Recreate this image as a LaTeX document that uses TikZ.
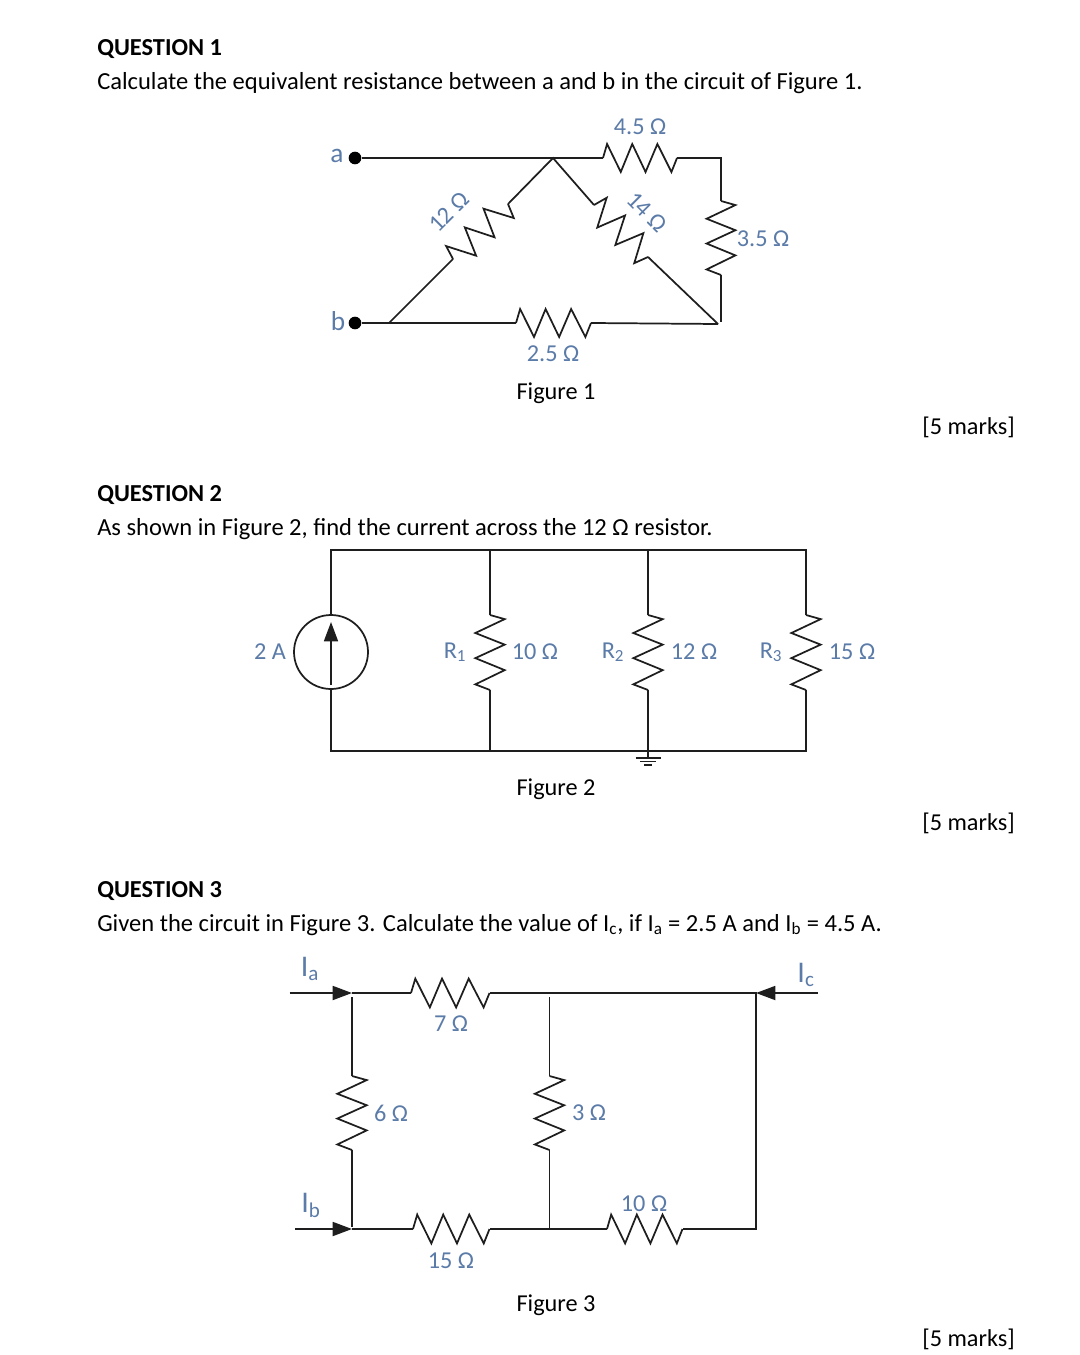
\documentclass[tikz,border=0pt]{standalone}
\usepackage{fontspec}
\setmainfont{Carlito}
\usetikzlibrary{calc,arrows.meta}
\definecolor{lab}{HTML}{5B7BA8}
\definecolor{ink}{HTML}{1E1E1E}
\tikzset{
  wire/.style={draw=ink,line width=1.3pt,line join=miter},
  bodytext/.style={inner sep=0pt,anchor=base west,text=black,font=\fontsize{18.4pt}{20pt}\selectfont},
  headtext/.style={bodytext,font=\fontsize{18.3pt}{20pt}\selectfont\bfseries},
  lbl/.style={inner sep=0pt,text=lab,font=\fontsize{18.2pt}{20pt}\selectfont},
  biglbl/.style={inner sep=0pt,text=lab,font=\fontsize{22.5pt}{24pt}\selectfont},
  figcap/.style={inner sep=0pt,text=black,font=\fontsize{18.2pt}{20pt}\selectfont},
  markstext/.style={inner sep=0pt,text=black,anchor=base east,font=\fontsize{18.2pt}{20pt}\selectfont},
  terminal/.style={circle,fill=black,inner sep=0pt,minimum size=9.5pt},
  sourcering/.style={circle,draw=ink,line width=1.3pt,inner sep=0pt,minimum size=55.5pt},
  flow/.style={wire,-{Triangle[length=14.5pt,width=10.5pt]}}
}
\newcommand{\resistor}[3]{%
  \draw[wire] (#1)
    -- ($(#1)!0.055!(#2)!#3!90:(#2)$)
    -- ($(#1)!0.24!(#2)!#3!-90:(#2)$)
    -- ($(#1)!0.395!(#2)!#3!90:(#2)$)
    -- ($(#1)!0.575!(#2)!#3!-90:(#2)$)
    -- ($(#1)!0.735!(#2)!#3!90:(#2)$)
    -- ($(#1)!0.925!(#2)!#3!-90:(#2)$)
    -- (#2);}
\begin{document}
\begin{tikzpicture}[x=0.75pt,y=-0.75pt]
\useasboundingbox (0,0) rectangle (1080,1355);
\fill[white] (0,0) rectangle (1080,1355);

% ---- texts
\node[headtext] (q1) at (97,56) {QUESTION 1};
\node[bodytext] (t1) at (97,90) {Calculate the equivalent resistance between a and b in the circuit of Figure 1.};
\node[headtext] (q2) at (97,501) {QUESTION 2};
\node[bodytext] (t2) at (97,535) {As shown in Figure 2, find the current across the 12 Ω resistor.};
\node[headtext] (q3) at (97,897) {QUESTION 3};
\node[bodytext] (t3) at (97,931) {Given the circuit in Figure 3. Calculate the value of I\textsubscript{c}, if I\textsubscript{a} = 2.5 A and I\textsubscript{b} = 4.5 A.};
\node[markstext] (m1) at (1015,434) {[5 marks]};
\node[markstext] (m2) at (1015,830) {[5 marks]};
\node[markstext] (m3) at (1015,1346) {[5 marks]};
\node[figcap] (f1) at (556,393.5) {Figure 1};
\node[figcap] (f2) at (556,789.5) {Figure 2};
\node[figcap] (f3) at (556,1305.5) {Figure 3};

% ---- Figure 1
\node[terminal] (a) at (355,158) {};
\node[terminal] (b) at (355,323) {};
\coordinate (top) at (553,158);
\coordinate (tr) at (721,158);
\coordinate (br) at (721,322);
\coordinate (bm) at (718,324);
\coordinate (left) at (389,323);
\coordinate (r45a) at (603,158); \coordinate (r45b) at (677,158);
\coordinate (r35a) at (721,201); \coordinate (r35b) at (721,275);
\coordinate (r25a) at (516,323); \coordinate (r25b) at (591,323);
\coordinate (r12a) at (453,259); \coordinate (r12b) at (508,204);
\coordinate (r14a) at (594,205); \coordinate (r14b) at (648,257);
\draw[wire] (a) -- (r45a);
\resistor{r45a}{r45b}{10.5pt}
\draw[wire] (r45b) -- (tr) -- (r35a);
\resistor{r35a}{r35b}{10.8pt}
\draw[wire] (r35b) -- (br);
\draw[wire] (b) -- (r25a);
\resistor{r25a}{r25b}{10.5pt}
\draw[wire] (r25b) -- (bm);
\draw[wire] (left) -- (r12a);
\resistor{r12a}{r12b}{10.5pt}
\draw[wire] (r12b) -- (top) -- (r14a);
\resistor{r14a}{r14b}{10.5pt}
\draw[wire] (r14b) -- (bm);
\node[lbl,font=\fontsize{20.5pt}{24pt}\selectfont] (la) at (337,156) {a};
\node[lbl,font=\fontsize{20.5pt}{24pt}\selectfont] (lb) at (338,321) {b};
\node[lbl] (l45) at (640,127) {4.5 Ω};
\node[lbl] (l35) at (763,239) {3.5 Ω};
\node[lbl] (l25) at (553,354) {2.5 Ω};
\node[lbl,rotate=45] (l12) at (449,212) {12 Ω};
\node[lbl,rotate=-45] (l14) at (647,212) {14 Ω};

% ---- Figure 2
\coordinate (s2t) at (331,550); \coordinate (s2b) at (331,751);
\coordinate (x1t) at (490,550); \coordinate (x1b) at (490,751);
\coordinate (x2t) at (648,550); \coordinate (x2b) at (648,751);
\coordinate (x3t) at (806,550); \coordinate (x3b) at (806,751);
\coordinate (r1a) at (490,615); \coordinate (r1b) at (490,690);
\coordinate (r2a) at (648,615); \coordinate (r2b) at (648,690);
\coordinate (r3a) at (806,615); \coordinate (r3b) at (806,690);
\node[sourcering] (src) at (331,652) {};
\coordinate (arrb) at (331,685); \coordinate (arrt) at (331,622);
\draw[wire] (src.north) -- (s2t) -- (x3t) -- (r3a);
\draw[wire] (src.south) -- (s2b) -- (x3b) -- (r3b);
\draw[wire] (x1t) -- (r1a); \draw[wire] (r1b) -- (x1b);
\draw[wire] (x2t) -- (r2a); \draw[wire] (r2b) -- (x2b);
\resistor{r1a}{r1b}{11pt}
\resistor{r2a}{r2b}{11pt}
\resistor{r3a}{r3b}{11pt}
\draw[flow] (arrb) -- (arrt);
\coordinate (g0) at (648,758); \coordinate (g1) at (648,761.5); \coordinate (g2) at (648,765);
\draw[wire] (x2b) -- (g0);
\draw[ink,line width=1pt] ($(g0)+(-12.5,0)$) -- ($(g0)+(12.5,0)$);
\draw[ink,line width=1pt] ($(g1)+(-8,0)$) -- ($(g1)+(8,0)$);
\draw[ink,line width=1pt] ($(g2)+(-4,0)$) -- ($(g2)+(4,0)$);
\node[lbl] (l2a) at (270,652) {2 A};
\node[lbl] (lr1) at (455,652) {R\textsubscript{1}};
\node[lbl] (lr2) at (613,652) {R\textsubscript{2}};
\node[lbl] (lr3) at (771,652) {R\textsubscript{3}};
\node[lbl] (l10) at (535,652) {10 Ω};
\node[lbl] (l12b) at (694,652) {12 Ω};
\node[lbl] (l15) at (852,652) {15 Ω};

% ---- Figure 3
\coordinate (iaS) at (289.5,993); \coordinate (tl) at (352,993);
\coordinate (icS) at (818,993); \coordinate (tR) at (756,993);
\coordinate (ibS) at (295,1229); \coordinate (bl) at (352,1229);
\coordinate (tlg) at (352,997); \coordinate (blg) at (352,1227);
\coordinate (tmid) at (549.5,997); \coordinate (bmid) at (549.5,1229);
\coordinate (bR) at (756,1229);
\coordinate (r7a) at (411,993); \coordinate (r7b) at (489.5,993);
\coordinate (r15a) at (413,1229); \coordinate (r15b) at (489.5,1229);
\coordinate (r10a) at (607,1229); \coordinate (r10b) at (682.5,1229);
\coordinate (r6a) at (352,1076); \coordinate (r6b) at (352,1150);
\coordinate (r3xa) at (549.5,1076); \coordinate (r3xb) at (549.5,1150);
\draw[wire] (tl) -- (r7a);
\resistor{r7a}{r7b}{10.8pt}
\draw[wire] (r7b) -- (tR) -- (bR) -- (r10b);
\resistor{r10a}{r10b}{10.8pt}
\draw[wire] (r10a) -- (r15b);
\resistor{r15a}{r15b}{10.8pt}
\draw[wire] (r15a) -- (bl);
\draw[wire] (tlg) -- (r6a);
\resistor{r6a}{r6b}{11pt}
\draw[wire] (r6b) -- (blg);
\draw[wire] (tmid) -- (r3xa);
\resistor{r3xa}{r3xb}{11pt}
\draw[wire] (r3xb) -- (bmid);
\draw[flow] (iaS) -- (tl);
\draw[flow] (ibS) -- (bl);
\draw[flow] (icS) -- (tR);
\node[biglbl] (lia) at (310,969) {I\textsubscript{a}};
\node[biglbl] (lib) at (311,1205) {I\textsubscript{b}};
\node[biglbl] (lic) at (806,975) {I\textsubscript{c}};
\node[lbl] (l7) at (451,1024) {7 Ω};
\node[lbl] (l6) at (391,1113) {6 Ω};
\node[lbl] (l3) at (589,1113) {3 Ω};
\node[lbl] (l10c) at (644,1204) {10 Ω};
\node[lbl] (l15c) at (451,1261) {15 Ω};
\end{tikzpicture}
\end{document}
